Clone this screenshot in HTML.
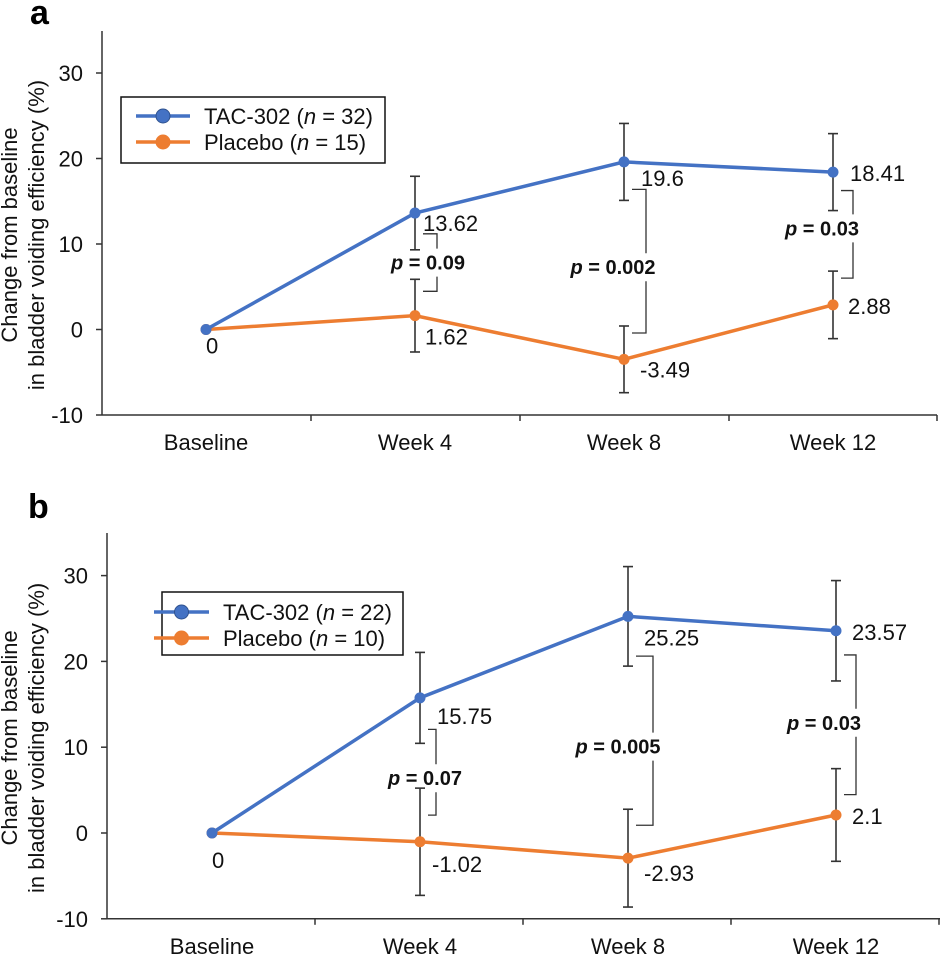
<!DOCTYPE html>
<html><head><meta charset="utf-8"><style>
body{margin:0;background:#fff;}
svg{display:block;font-family:"Liberation Sans",Arial,sans-serif;}
</style></head><body>
<svg id="chart" width="944" height="957" viewBox="0 0 944 957"></svg>
<script>
const categories = ["Baseline","Week 4","Week 8","Week 12"];
const yTicks = [-10,0,10,20,30];
// Panel a
const aTac = [0,13.62,19.6,18.41];
const aTacErr = [0,4.3,4.5,4.5];
const aPla = [0,1.62,-3.49,2.88];
const aPlaErr = [0,4.25,3.9,3.95];
const aLabelsTac = ["","13.62","19.6","18.41"];
const aLabelsPla = ["0","1.62","-3.49","2.88"];
const aPvals = ["","p = 0.09","p = 0.002","p = 0.03"];
const aLegend = ["TAC-302 (","n"," = 32)","Placebo (","n"," = 15)"];
// Panel b
const bTac = [0,15.75,25.25,23.57];
const bTacErr = [0,5.3,5.8,5.85];
const bPla = [0,-1.02,-2.93,2.1];
const bPlaErr = [0,6.25,5.7,5.4];
const bLabelsTac = ["","15.75","25.25","23.57"];
const bLabelsPla = ["0","-1.02","-2.93","2.1"];
const bPvals = ["","p = 0.07","p = 0.005","p = 0.03"];
const bLegend = ["TAC-302 (","n"," = 22)","Placebo (","n"," = 10)"];

const NS="http://www.w3.org/2000/svg";
const svg=document.getElementById('chart');
function mk(tag,attrs,parent){const e=document.createElementNS(NS,tag);for(const k in attrs)e.setAttribute(k,attrs[k]);(parent||svg).appendChild(e);return e;}
const BLUE="#4472c4",ORANGE="#ed7d31";
const FS=22;

function panel(cfg){
  const g=mk('g',{});
  
  
  const xOf=i=>cfg.x0+i*cfg.dx;
  const yOf=v=>cfg.y0-v*cfg.sy;
  const t=mk('text',{x:cfg.letterX,y:cfg.letterY,'font-size':34,'font-weight':'bold'},g);t.textContent=cfg.letter;
  
  
  const bottom=yOf(-10);
  const ya=mk('line',{x1:cfg.ax,y1:cfg.axTop,x2:cfg.ax,y2:bottom,stroke:'#333','stroke-width':1.5},g);
  
  
  const xa=mk('line',{x1:cfg.ax,y1:bottom,x2:cfg.axRight,y2:bottom,stroke:'#333','stroke-width':1.5},g);
  
  
  yTicks.forEach(v=>{
    mk('line',{x1:cfg.ax-6,y1:yOf(v),x2:cfg.ax,y2:yOf(v),stroke:'#333','stroke-width':1.5},g);
    const tl=mk('text',{x:cfg.ax-19,y:yOf(v)+8,'font-size':FS,'text-anchor':'end',fill:'#111'},g);tl.textContent=v;
    
    
  });
  for(let i=1;i<=categories.length;i++){
    const x=Math.min(cfg.ax+i*cfg.dx,cfg.axRight);
    mk('line',{x1:x,y1:bottom,x2:x,y2:bottom+6,stroke:'#333','stroke-width':1.5},g);
  }
  categories.forEach((c,i)=>{
    const tl=mk('text',{x:xOf(i),y:bottom+35,'font-size':FS,'text-anchor':'middle',fill:'#111'},g);tl.textContent=c;
    
    
  });
  const cy=(cfg.axTop+bottom)/2+12;
  const yt=mk('text',{transform:`translate(${cfg.titleX},${cy}) rotate(-90)`,'font-size':FS,'text-anchor':'middle',fill:'#111'},g);
  
  
  const t1=mk('tspan',{x:0,y:0},yt);t1.textContent='Change from baseline';
  const t2=mk('tspan',{x:0,y:27},yt);t2.textContent='in bladder voiding efficiency (%)';
  function err(vals,errs,name){
    vals.forEach((v,i)=>{ if(!errs[i])return;
      const x=xOf(i),y1=yOf(v+errs[i]),y2=yOf(v-errs[i]);
      const eg=mk('g',{stroke:'#333','stroke-width':1.6},g);
      
      
      mk('line',{x1:x,y1:y1,x2:x,y2:y2},eg);
      mk('line',{x1:x-5,y1:y1,x2:x+5,y2:y1},eg);
      mk('line',{x1:x-5,y1:y2,x2:x+5,y2:y2},eg);
    });
  }
  err(cfg.tac,cfg.tacErr,'tac302');err(cfg.pla,cfg.plaErr,'placebo');
  function series(vals,color,name){
    const pl=mk('polyline',{points:vals.map((v,i)=>xOf(i)+','+yOf(v)).join(' '),fill:'none',stroke:color,'stroke-width':3.5},g);
    
    
    vals.forEach((v,i)=>{
      const c=mk('circle',{cx:xOf(i),cy:yOf(v),r:5.5,fill:color},g);
      
      
    });
  }
  series(cfg.pla,ORANGE,'placebo');
  series(cfg.tac,BLUE,'tac302');
  function labels(vals,labs,offs,name){
    vals.forEach((v,i)=>{ if(!labs[i])return;
      const o=offs[i];
      const tl=mk('text',{x:xOf(i)+o[0],y:yOf(v)+o[1]+8,'font-size':FS,fill:'#111'},g);tl.textContent=labs[i];
      
      
    });
  }
  labels(cfg.tac,cfg.tacLab,cfg.tacOff,'tac302');
  labels(cfg.pla,cfg.plaLab,cfg.plaOff,'placebo');
  cfg.pvals.forEach((p,i)=>{ if(!p)return;
    const x=xOf(i);
    const top=yOf(cfg.tac[i]-cfg.tacErr[i])+cfg.brTopOff[i];
    const bot=yOf(cfg.pla[i]+cfg.plaErr[i])+cfg.brBotOff[i];
    const mid=(top+bot)/2+cfg.pShift[i];
    const bx=x+cfg.brW[i];
    const bg=mk('g',{stroke:'#333','stroke-width':1.3,fill:'none'},g);
    
    
    mk('polyline',{points:`${x+8},${top} ${bx},${top} ${bx},${mid-14}`},bg);
    mk('polyline',{points:`${bx},${mid+14} ${bx},${bot} ${x+8},${bot}`},bg);
    const pt=mk('text',{x:x+cfg.pX[i],y:mid+7,'font-size':20,'font-weight':'bold','text-anchor':'middle',fill:'#111'},g);
    
    
    const parts=p.split(' = ');
    const it=mk('tspan',{'font-style':'italic'},pt);it.textContent=parts[0];
    const rest=mk('tspan',{},pt);rest.textContent=' = '+parts[1];
  });
  const L=cfg.leg;
  const lb=mk('rect',{x:L.x,y:L.y,width:L.w,height:L.h,fill:'#fff',stroke:'#111','stroke-width':1.5},g);
  
  
  [[BLUE,0],[ORANGE,3]].forEach(([col,k],r)=>{
    const yy=L.row0+r*26;
    const eg=mk('g',{},g);
    
    
    mk('line',{x1:L.lx1,y1:yy,x2:L.lx2,y2:yy,stroke:col,'stroke-width':3.5},eg);
    mk('circle',{cx:(L.lx1+L.lx2)/2,cy:yy,r:7,fill:col,stroke:r===0?'#2f528f':col,'stroke-width':1},eg);
    const tx=mk('text',{x:L.tx,y:yy+8,'font-size':FS,fill:'#111'},eg);
    const a=mk('tspan',{},tx);a.textContent=cfg.legend[k];
    const b=mk('tspan',{'font-style':'italic'},tx);b.textContent=cfg.legend[k+1];
    const c=mk('tspan',{},tx);c.textContent=cfg.legend[k+2];
  });
}

panel({letter:'a',letterX:30,letterY:24,ax:102,axTop:31,axRight:937,x0:206,dx:209,y0:329.5,sy:8.55,titleX:17,
  tac:aTac,tacErr:aTacErr,pla:aPla,plaErr:aPlaErr,tacLab:aLabelsTac,plaLab:aLabelsPla,
  tacOff:[[0,0],[8,10],[17,16],[17,1]],plaOff:[[0,16],[10,21],[16,10],[15,1]],
  pvals:aPvals,brTopOff:[0,-16,-11,-20],brBotOff:[0,12,7,7],pShift:[0,0,6,-6],brW:[0,22,22,20],pX:[0,13,-11,-11],
  leg:{x:121,y:97,w:264,h:66,row0:116,lx1:136,lx2:190,tx:204},legend:aLegend});
panel({letter:'b',letterX:28,letterY:518,ax:107,axTop:533,axRight:940,x0:212,dx:208,y0:833,sy:8.58,titleX:17,
  tac:bTac,tacErr:bTacErr,pla:bPla,plaErr:bPlaErr,tacLab:bLabelsTac,plaLab:bLabelsPla,
  tacOff:[[0,0],[17,18],[16,21],[16,1]],plaOff:[[0,27],[12,22],[16,15],[16,1]],
  pvals:bPvals,brTopOff:[0,-14,-10,-26],brBotOff:[0,27,16,26],pShift:[0,6,6,-2],brW:[0,16,25,20],pX:[0,5,-10,-12],
  leg:{x:162,y:592,w:241,h:63,row0:612,lx1:154,lx2:209,tx:223},legend:bLegend});
</script>
</body></html>
